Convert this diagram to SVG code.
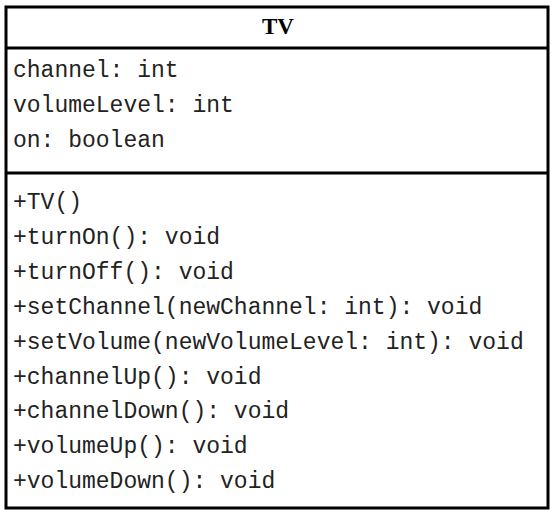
<svg xmlns="http://www.w3.org/2000/svg" width="557" height="515" viewBox="0 0 557 515">
<style>
.box{fill:#fff;stroke:#000;stroke-width:3}
.div{stroke:#000;stroke-width:3}
.t{font-family:"Liberation Mono","Courier New",monospace;font-size:23px;fill:#222}
.h{font-family:"Liberation Serif","Times New Roman",serif;font-size:23px;font-weight:bold;fill:#000}
</style>
<g id="TV">
<rect class="box" x="6" y="7" width="542" height="501"/>
<line class="div" x1="6" y1="48" x2="548" y2="48"/>
<line class="div" x1="6" y1="173" x2="548" y2="173"/>
<text class="h" x="278" y="34" text-anchor="middle">TV</text>
<text class="t" x="13" y="77">channel: int</text>
<text class="t" x="13" y="112">volumeLevel: int</text>
<text class="t" x="13" y="147">on: boolean</text>
<text class="t" x="13" y="209">+TV()</text>
<text class="t" x="13" y="244">+turnOn(): void</text>
<text class="t" x="13" y="279">+turnOff(): void</text>
<text class="t" x="13" y="314">+setChannel(newChannel: int): void</text>
<text class="t" x="13" y="349">+setVolume(newVolumeLevel: int): void</text>
<text class="t" x="13" y="384">+channelUp(): void</text>
<text class="t" x="13" y="418">+channelDown(): void</text>
<text class="t" x="13" y="453">+volumeUp(): void</text>
<text class="t" x="13" y="488">+volumeDown(): void</text>
</g>
<g id="connectors"/>
</svg>
